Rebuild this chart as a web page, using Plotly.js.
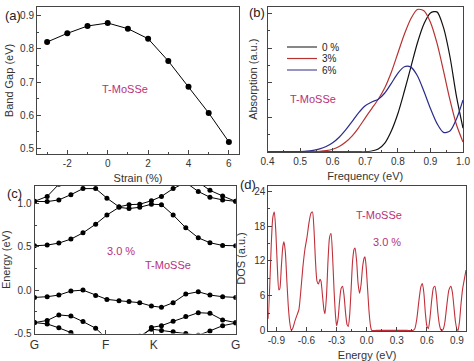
<!DOCTYPE html>
<html><head><meta charset="utf-8">
<script src="https://cdn.plot.ly/plotly-3.0.1.min.js"></script>
<style>html,body{margin:0;padding:0;background:#fff}#c{width:474px;height:361px}</style>
</head><body><div id="c"></div>
<script>
// (a) band gap vs strain
const strain = [-3,-2,-1,0,1,2,3,4,5,6];
const bandGap = [0.820,0.846,0.868,0.877,0.860,0.830,0.763,0.686,0.607,0.520];

// (b) absorption
const freq = [0.40,0.44,0.48,0.50,0.52,0.54,0.56,0.58,0.60,0.62,0.64,0.66,0.68,0.70,0.72,0.74,0.76,0.78,0.80,0.82,0.84,0.86,0.88,0.90,0.92,0.94,0.96,0.98,1.00];
const abs0 = [0,0,0,0,0,0,0,0,0,0,0,0,0,0,0.02,0.08,0.25,0.6,1.1,1.75,2.45,3.15,3.7,4.02,4.05,3.6,2.75,1.6,0.68];
const abs3 = [0,0,0,0,0,0,0.01,0.03,0.07,0.15,0.28,0.46,0.7,0.98,1.25,1.52,1.85,2.3,2.85,3.4,3.85,4.12,4.08,3.75,3.15,2.35,1.5,0.78,0.28];
const abs6 = [0,0,0,0.005,0.015,0.04,0.08,0.15,0.26,0.42,0.63,0.88,1.13,1.33,1.44,1.52,1.7,1.98,2.27,2.46,2.45,2.2,1.75,1.25,0.82,0.56,0.6,0.95,1.5];
const absNames = ['0 %','3%','6%'];

// (c) band structure at 3.0 %
const kPath = [0,0.063,0.121,0.181,0.241,0.304,0.360,0.420,0.470,0.523,0.581,0.631,0.689,0.752,0.814,0.872,0.935,1.0];
const kTickVals = [0,0.354,0.593,1.0];
const kTickText = ['G','F','K','G'];
const cb1 = [0.511,0.519,0.542,0.588,0.660,0.760,0.866,0.954,0.940,0.955,0.990,0.985,0.866,0.718,0.603,0.546,0.515,0.511];
const cb2 = [1.023,1.020,1.040,1.100,1.170,1.170,1.060,0.960,0.985,0.990,1.030,1.080,1.170,1.240,1.137,1.070,1.040,1.023];
const cb3 = [1.023,1.080,1.220,1.350,1.450,1.500,1.500,1.500,1.500,1.500,1.500,1.500,1.450,1.350,1.250,1.150,1.085,1.023];
const vb1 = [-0.084,-0.076,-0.057,-0.011,0.000,-0.061,-0.107,-0.122,-0.130,-0.145,-0.183,-0.198,-0.145,-0.046,-0.019,-0.057,-0.076,-0.084];
const vb2 = [-0.374,-0.350,-0.286,-0.298,-0.363,-0.439,-0.560,-0.620,-0.620,-0.560,-0.430,-0.410,-0.360,-0.305,-0.260,-0.267,-0.344,-0.374];
const vb3 = [-0.374,-0.390,-0.435,-0.489,-0.560,-0.650,-0.700,-0.700,-0.650,-0.530,-0.450,-0.466,-0.480,-0.500,-0.520,-0.470,-0.410,-0.380];

// (d) DOS at 3.0 %
const dosE = [-0.98,-0.965,-0.95,-0.935,-0.92,-0.905,-0.89,-0.875,-0.865,-0.85,-0.835,-0.824,-0.81,-0.795,-0.78,-0.765,-0.75,-0.735,-0.715,-0.695,-0.675,-0.655,-0.635,-0.615,-0.595,-0.575,-0.555,-0.54,-0.525,-0.51,-0.495,-0.48,-0.465,-0.455,-0.44,-0.425,-0.415,-0.40,-0.385,-0.37,-0.355,-0.34,-0.325,-0.31,-0.30,-0.285,-0.27,-0.255,-0.24,-0.225,-0.21,-0.195,-0.183,-0.17,-0.155,-0.14,-0.125,-0.116,-0.10,-0.085,-0.07,-0.055,-0.04,-0.025,-0.017,-0.005,0.01,0.025,0.04,0.05,0.10,0.20,0.30,0.40,0.46,0.48,0.50,0.52,0.54,0.555,0.57,0.585,0.60,0.615,0.63,0.65,0.665,0.68,0.695,0.71,0.725,0.74,0.75,0.765,0.78,0.80,0.82,0.84,0.855,0.87,0.885,0.90,0.91,0.925,0.94,0.955,0.97,0.99];
const dosV = [2,8,15,19.5,20.4,17,11,7,7.2,11,14.5,15.3,13.5,8.5,4,1.2,0,0.4,1.6,2.6,3.6,7,11,14,16,18.5,20.2,20.4,17.5,12,8.5,8,8.8,8.5,6,3.5,2.9,6,12,16,16.7,13,7,2.5,0.8,2,5,7.2,7.6,6,3,1,0.7,2.5,7,12,14,14.2,12,8,6.4,8,11,12.5,12.7,11,7,3,0.6,0,0,0,0,0,0,0.3,2,5,7.5,8.1,6.5,3,0.8,0.3,2,5.5,7.3,7.6,6,3,1,0.1,0,0.3,1.5,4.5,7,7.6,6.5,4,1.5,0.2,0,1.5,4.5,7,8.5,10.4];

const FONT = 'Liberation Sans, Arial, sans-serif';
const AX = '#444';
const MAG = '#b8307a';
function ax(o){
  return Object.assign({showline:true,mirror:true,linecolor:AX,linewidth:1,ticks:'inside',ticklen:4,tickcolor:AX,
    showgrid:false,zeroline:false,tickfont:{size:10,color:'#333',family:FONT},fixedrange:true},o);
}
const traces = [];
traces.push({x:strain,y:bandGap,mode:'lines+markers',line:{color:'#000',width:1},marker:{color:'#000',size:6},
  xaxis:'x',yaxis:'y',showlegend:false});
const absCols = ['#111111','#b83232','#2b2b8c'];
const legIds = ['legend','legend2','legend3'];
[abs0,abs3,abs6].forEach((a,i)=>traces.push({x:freq,y:a,mode:'lines',name:absNames[i],legend:legIds[i],
  line:{color:absCols[i],width:1.2,shape:'spline',smoothing:0.8},xaxis:'x2',yaxis:'y2',showlegend:true}));
[cb1,cb2,cb3,vb1,vb2,vb3].forEach(b=>traces.push({x:kPath,y:b,mode:'lines+markers',line:{color:'#000',width:1},
  marker:{color:'#000',size:5},xaxis:'x3',yaxis:'y3',showlegend:false}));
traces.push({x:dosE,y:dosV,mode:'lines',line:{color:'#c0303a',width:1.1,shape:'spline',smoothing:0.6},
  xaxis:'x4',yaxis:'y4',showlegend:false});

const W=474,H=361;
const dx=(a,b)=>[a/W,b/W], dy=(t,b)=>[1-b/H,1-t/H];
function leg(yPx){
  return {x:282/W,y:1-yPx/H,xanchor:'left',yanchor:'middle',bgcolor:'rgba(0,0,0,0)',
    font:{size:10,color:'#222',family:FONT},itemwidth:30};
}
const layout = {
  width:W,height:H,margin:{l:0,r:0,t:0,b:0},paper_bgcolor:'#fff',plot_bgcolor:'#fff',
  font:{family:FONT,color:'#333'},
  xaxis:ax({domain:dx(37,239),anchor:'y',range:[-3.5,6.5],tickvals:[-2,0,2,4,6],ticktext:['-2','0','2','4','6'],
    minor:{tickvals:[-3,-1,1,3,5],ticks:'inside',ticklen:2,tickcolor:AX},
    title:{text:'Strain (%)',font:{size:11,color:'#333'},standoff:6}}),
  yaxis:ax({domain:dy(6.7,154.3),anchor:'x',range:[0.483,0.926],tickvals:[0.5,0.6,0.7,0.8,0.9],ticktext:['0.5','0.6','0.7','0.8','0.9'],
    minor:{tickvals:[0.55,0.65,0.75,0.85],ticks:'inside',ticklen:2,tickcolor:AX},
    title:{text:'Band Gap (eV)',font:{size:11,color:'#333'},standoff:4}}),
  xaxis2:ax({domain:dx(267.5,463),anchor:'y2',range:[0.4,1.0],tickvals:[0.4,0.5,0.6,0.7,0.8,0.9,1.0],
    ticktext:['0.4','0.5','0.6','0.7','0.8','0.9','1.0'],
    minor:{tickvals:[0.45,0.55,0.65,0.75,0.85,0.95],ticks:'inside',ticklen:2,tickcolor:AX},
    title:{text:'Frequency (eV)',font:{size:11,color:'#333'},standoff:6}}),
  yaxis2:ax({domain:dy(6.7,151.7),anchor:'x2',range:[0,4.2],tickvals:[1,2,3,4],showticklabels:false,
    minor:{tickvals:[0.5,1.5,2.5,3.5],ticks:'inside',ticklen:2,tickcolor:AX},
    title:{text:'Absorption (a.u.)',font:{size:11,color:'#333'},standoff:6}}),
  xaxis3:ax({domain:dx(34.5,235.7),anchor:'y3',range:[0,1],tickvals:kTickVals,ticktext:kTickText,
    tickfont:{size:12,color:'#333',family:FONT}}),
  yaxis3:ax({domain:dy(186,333.5),anchor:'x3',range:[-0.5,1.2],tickvals:[-0.5,0,0.5,1.0],ticktext:['-0.5','0.0','0.5','1.0'],
    minor:{tickvals:[-0.25,0.25,0.75],ticks:'inside',ticklen:2,tickcolor:AX},
    title:{text:'Energy (eV)',font:{size:11,color:'#333'},standoff:4}}),
  xaxis4:ax({domain:dx(268.3,466),anchor:'y4',range:[-0.98,0.99],tickvals:[-0.9,-0.6,-0.3,0,0.3,0.6,0.9],
    ticktext:['-0.9','-0.6','-0.3','0.0','0.3','0.6','0.9'],
    minor:{tickvals:[-0.75,-0.45,-0.15,0.15,0.45,0.75],ticks:'inside',ticklen:2,tickcolor:AX},
    title:{text:'Energy (eV)',font:{size:11,color:'#333'},standoff:6}}),
  yaxis4:ax({domain:dy(186,331),anchor:'x4',range:[-0.1,24.9],tickvals:[0,6,12,18,24],ticktext:['0','6','12','18','24'],
    minor:{tickvals:[3,9,15,21],ticks:'inside',ticklen:2,tickcolor:AX},
    title:{text:'DOS (a.u.)',font:{size:11,color:'#333'},standoff:6}}),
  showlegend:true,
  legend:leg(47), legend2:leg(58.5), legend3:leg(70),
  annotations:[
    {text:'(a)',x:3/W,y:1-15/H,xref:'paper',yref:'paper',xanchor:'left',yanchor:'middle',showarrow:false,font:{size:13,color:'#222'}},
    {text:'(b)',x:247/W,y:1-12/H,xref:'paper',yref:'paper',xanchor:'left',yanchor:'middle',showarrow:false,font:{size:13,color:'#222'}},
    {text:'(c)',x:5/W,y:1-193/H,xref:'paper',yref:'paper',xanchor:'left',yanchor:'middle',showarrow:false,font:{size:13,color:'#222'}},
    {text:'(d)',x:238/W,y:1-184/H,xref:'paper',yref:'paper',xanchor:'left',yanchor:'middle',showarrow:false,font:{size:13,color:'#222'}},
    {text:'T-MoSSe',x:100/W,y:1-81/H,xref:'paper',yref:'paper',showarrow:false,font:{size:11,color:MAG}},
    {text:'T-MoSSe',x:313/W,y:1-91/H,xref:'paper',yref:'paper',showarrow:false,font:{size:11,color:MAG}},
    {text:'3.0 %',x:105/W,y:1-259/H,xref:'paper',yref:'paper',showarrow:false,font:{size:11,color:MAG}},
    {text:'T-MoSSe',x:168/W,y:1-273/H,xref:'paper',yref:'paper',showarrow:false,font:{size:11,color:MAG}},
    {text:'T-MoSSe',x:404/W,y:1-215/H,xref:'paper',yref:'paper',showarrow:false,font:{size:11,color:MAG}},
    {text:'3.0 %',x:403/W,y:1-250/H,xref:'paper',yref:'paper',showarrow:false,font:{size:11,color:MAG}}
  ]
};
Plotly.newPlot('c',traces,layout,{staticPlot:true,displayModeBar:false});
</script></body></html>
